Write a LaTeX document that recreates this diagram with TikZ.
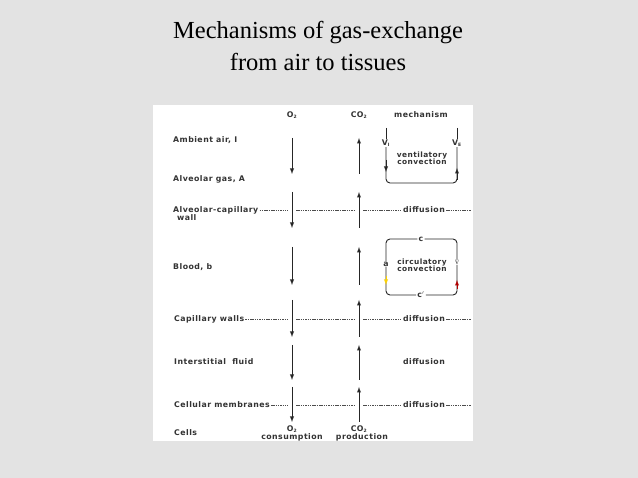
\documentclass[tikz,border=0pt]{standalone}
\usepackage{fontspec}
\setmainfont{Liberation Serif}
\newfontfamily\lab[LetterSpace=6,BoldFont={DejaVu Sans Bold}]{DejaVu Sans}
\newcommand{\sbs}[1]{\textsubscript{\fontsize{4.5}{5}\selectfont #1}}
\begin{document}
\begin{tikzpicture}[x=1pt,y=-1pt,
  lbl/.style={font=\lab\fontsize{7.8}{8.5}\selectfont\bfseries, text=black!80, inner sep=1pt},
  ar/.style={-latex, line width=0.9pt, black!85},
  dl/.style={line width=0.5pt, black!70, dash pattern=on 1.5pt off 0.8pt},
  lp/.style={line width=0.9pt, black!85, rounded corners=4pt}]
\fill[gray!22] (0,0) rectangle (638,478);
\fill[white] (153,105) rectangle (473,441);
\node[font=\fontsize{24.5}{26}\selectfont] (t1) at (318,33) {Mechanisms of gas-exchange};
\node[font=\fontsize{24.5}{26}\selectfont] (t2) at (318,62) {from air to tissues};
% headers
\node[lbl] (hO) at (292,115) {O\sbs{2}};
\node[lbl] (hC) at (359,115) {CO\sbs{2}};
\node[lbl] (hM) at (421,115) {mechanism};
% row labels
\node[lbl,anchor=west] (r1) at (172,140) {Ambient air, I};
\node[lbl,anchor=west] (r2) at (172,179) {Alveolar gas, A};
\node[lbl,anchor=west] (r3) at (172,210) {Alveolar-capillary};
\node[lbl,anchor=west] (r3b) at (176,218) {wall};
\node[lbl,anchor=west] (r4) at (172,267) {Blood, b};
\node[lbl,anchor=west] (r5) at (173,319) {Capillary walls};
\node[lbl,anchor=west] (r6) at (173,362) {Interstitial\ \ fluid};
\node[lbl,anchor=west] (r7) at (173,405) {Cellular membranes};
\node[lbl,anchor=west] (r8) at (173,433) {Cells};
% arrows
\foreach \i/\a/\b in {1/138/174,2/192/228,3/247/285,4/300/337,5/345/380,6/387/422}{
  \coordinate (o\i t) at (292,\a); \coordinate (o\i b) at (292,\b);
  \coordinate (c\i t) at (359,\a); \coordinate (c\i b) at (359,\b);
  \draw[ar] (o\i t) -- (o\i b);
  \draw[ar] (c\i b) -- (c\i t);
}
% bottom labels
\node[lbl,inner sep=0pt] (co2) at (292,429.5) {O\sbs{2}};
\node[lbl,inner sep=0pt] (cons) at (292,437) {consumption};
\node[lbl,inner sep=0pt] (pco2) at (359,429.5) {CO\sbs{2}};
\node[lbl,inner sep=0pt] (prod) at (362,437) {production};
% diffusion rows
\node[lbl] (d1) at (424,210) {diffusion};
\node[lbl] (d2) at (424,319) {diffusion};
\node[lbl] (d3) at (424,362) {diffusion};
\node[lbl] (d4) at (424,405) {diffusion};
\draw[dl] (r3.east) -- (288,210) (296,210) -- (355,210) (363,210) -- (d1.west) (d1.east) -- (471,210);
\draw[dl] (r5.east) -- (288,319) (296,319) -- (355,319) (363,319) -- (d2.west) (d2.east) -- (471,319);
\draw[dl] (r7.east) -- (288,405) (296,405) -- (355,405) (363,405) -- (d4.west) (d4.east) -- (471,405);
% ventilatory loop
\coordinate (vl) at (386,128); \coordinate (vr) at (457,128);
\node[lbl,fill=white,inner sep=0.5pt] (vi) at (386,143) {V\sbs{I}};
\node[lbl,fill=white,inner sep=0.5pt] (ve) at (457,143) {V\sbs{E}};
\draw[line width=0.9pt,black!85] (vl) -- (vi.north) (vr) -- (ve.north);
\draw[lp] (vi.south) -- (386,183) -- (457,183) -- (ve.south);
\draw[ar] (386,160) -- (386,172);
\draw[ar] (457,180) -- (457,168);
\node[lbl,align=center,font=\lab\fontsize{7.4}{7.4}\selectfont\bfseries] (vc) at (422,158) {ventilatory\\convection};
% circulatory loop
\node[lbl,fill=white] (cc) at (421,239) {c};
\node[lbl,fill=white] (cp) at (421,295) {c$'$};
\node[lbl,fill=white,inner sep=0.3pt] (ca) at (386,264) {a};
\node[lbl,fill=white,inner sep=0.3pt] (cv) at (457,262) {$\bar{\mathrm{v}}$};
\draw[lp] (cc.west) -- (386,239) -- (ca.north);
\draw[lp] (cc.east) -- (457,239) -- (cv.north);
\draw[lp] (ca.south) -- (386,295) -- (cp.west);
\draw[lp] (cv.south) -- (457,295) -- (cp.east);
\draw[-latex,line width=0.9pt,yellow!70!orange] (386,276) -- (386,285);
\draw[-latex,line width=0.9pt,red!70!black] (457,289) -- (457,280);
\node[lbl,align=center,font=\lab\fontsize{7.4}{7.4}\selectfont\bfseries] (ccv) at (422,265) {circulatory\\convection};
\end{tikzpicture}
\end{document}
